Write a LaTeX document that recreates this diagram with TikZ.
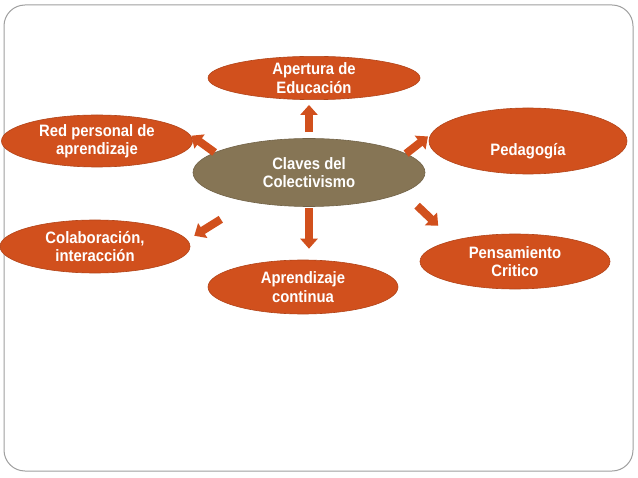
\documentclass[tikz,border=0pt]{standalone}
\usepackage{fontspec}
\setmainfont{Liberation Sans}[FakeStretch=0.9]
\usetikzlibrary{arrows.meta,shapes.geometric}
\definecolor{rustorange}{RGB}{209,80,29}
\definecolor{claybrown}{RGB}{134,117,85}
\begin{document}
\begin{tikzpicture}[x=1bp,y=-1bp,
		oval/.style={ellipse,fill=rustorange,draw=rustorange!85!black,line width=0.6bp,inner sep=0pt,
			text=white,align=center,font=\fontsize{16.5bp}{18.5bp}\selectfont\bfseries},
		keyoval/.style={oval,fill=claybrown,draw=claybrown!85!black},
		blockarrow/.style={draw=rustorange,line width=8bp,-{Triangle[width=17bp,length=10bp]}}]
			\useasboundingbox[fill=white] (0,0) rectangle (638,478);
			\draw[gray!75,line width=1bp,rounded corners=21bp] (4,5) rectangle (633,471);
			\node[keyoval,minimum width=232bp,minimum height=68bp] (claves) at (309,172.5) {Claves del\\Colectivismo};
			\node[oval,minimum width=212bp,minimum height=40bp] (apertura) at (314,78) {Apertura de\\Educación};
			\node[oval,minimum width=191bp,minimum height=52bp] (red) at (97,141) {Red personal de\\aprendizaje};
			\node[oval,minimum width=198bp,minimum height=66bp,
				label={[text=white,font=\fontsize{16.5bp}{18.5bp}\selectfont\bfseries,yshift=-10bp]center:Pedagogía}] (pedagogia) at (528,141) {};
			\node[oval,minimum width=190bp,minimum height=53bp] (colab) at (95,246.5) {Colaboración,\\interacción};
			\node[oval,minimum width=190bp,minimum height=54bp] (aprend) at (303,287) {Aprendizaje\\continua};
			\node[oval,minimum width=190bp,minimum height=55bp] (pensam) at (515,261.5) {Pensamiento\\Critico};
			\draw[blockarrow,shorten <=6bp,shorten >=5bp] (claves.north) to (claves.north |- apertura.south);
			\draw[blockarrow,shorten <=1.5bp,shorten >=11bp] (claves.south) to (claves.south |- aprend.north);
			\draw[blockarrow,shorten >=2bp] (claves.168) to (red.4);
			\draw[blockarrow,shorten >=3.6bp] (claves.11) to (pedagogia.176);
			\draw[blockarrow,shorten <=33bp,shorten >=8bp] (claves.206) to (colab.4);
			\draw[blockarrow,shorten <=19bp,shorten >=21bp] (claves.-12) to (pensam.161);
		\end{tikzpicture}
\end{document}
